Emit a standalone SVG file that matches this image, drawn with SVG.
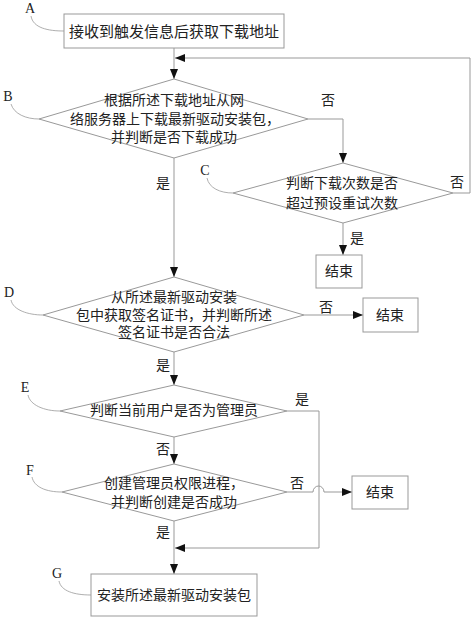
<svg xmlns="http://www.w3.org/2000/svg" width="474" height="620" viewBox="0 0 474 620">
<style>
.s{fill:#fff;stroke:#999;stroke-width:1}
.c{fill:none;stroke:#999;stroke-width:1}
.l{fill:none;stroke:#999;stroke-width:0.8}
text{font-family:"Liberation Serif","Noto Sans CJK SC",serif;fill:#222;font-size:14px}
.m{text-anchor:middle}
</style>
<defs>
<marker id="ar" viewBox="0 0 10 8" refX="10" refY="4" markerWidth="10" markerHeight="8" markerUnits="userSpaceOnUse" orient="auto">
<path d="M0,0L10,4L0,8z" fill="#111"/>
</marker>
</defs>
<rect width="474" height="620" fill="#fff"/>
<g id="connectors">
<path class="c" d="M174,48V79" marker-end="url(#ar)"/>
<path class="c" d="M453,193H470V58H175" marker-end="url(#ar)"/>
<path class="c" d="M308,119H343V163" marker-end="url(#ar)"/>
<path class="c" d="M343,223V255" marker-end="url(#ar)"/>
<path class="c" d="M174,158V277" marker-end="url(#ar)"/>
<path class="c" d="M304,315H363" marker-end="url(#ar)"/>
<path class="c" d="M174,352V385" marker-end="url(#ar)"/>
<path class="c" d="M174,437V464" marker-end="url(#ar)"/>
<path class="c" d="M287,411H319V548H175" marker-end="url(#ar)"/>
<path class="c" d="M287,492H313A5.5,6 0 0 1 324,492H352" marker-end="url(#ar)"/>
<path class="c" d="M174,521V574" marker-end="url(#ar)"/>
<text x="328" y="105" class="m">否</text>
<text x="163" y="188" class="m">是</text>
<text x="457" y="187" class="m">否</text>
<text x="357" y="243" class="m">是</text>
<text x="326" y="312" class="m">否</text>
<text x="163" y="370" class="m">是</text>
<text x="302" y="404" class="m">是</text>
<text x="163" y="454" class="m">否</text>
<text x="297" y="488" class="m">否</text>
<text x="163" y="537" class="m">是</text>
</g>
<g id="A">
<rect class="s" x="64" y="14" width="220" height="34"/>
<text x="174" y="37" class="m" style="font-size:15px">接收到触发信息后获取下载地址</text>
<text x="30" y="13" class="m">A</text>
<path class="l" d="M31,16C33,28 48,31 64,31"/>
</g>
<g id="B">
<path class="s" d="M174,79L308,119L174,158L39,119Z"/>
<text x="174" y="105" class="m">根据所述下载地址从网</text>
<text x="175" y="124" class="m">络服务器上下载最新驱动安装包，</text>
<text x="174" y="142" class="m">并判断是否下载成功</text>
<text x="8" y="101" class="m">B</text>
<path class="l" d="M11,104C14,114 26,119 39,119"/>
</g>
<g id="C">
<path class="s" d="M343,163L453,193L343,223L233,193Z"/>
<text x="342" y="188" class="m">判断下载次数是否</text>
<text x="342" y="208" class="m">超过预设重试次数</text>
<text x="205" y="175" class="m">C</text>
<path class="l" d="M207,178C209,188 220,193 233,193"/>
</g>
<g id="end1">
<rect class="s" x="316" y="255" width="46" height="33"/>
<text x="339" y="276" class="m">结束</text>
</g>
<g id="D">
<path class="s" d="M174,277L304,315L174,352L43,315Z"/>
<text x="174" y="302" class="m">从所述最新驱动安装</text>
<text x="174" y="320" class="m">包中获取签名证书，并判断所述</text>
<text x="174" y="337" class="m">签名证书是否合法</text>
<text x="9" y="297" class="m">D</text>
<path class="l" d="M11,300C13,310 28,315 43,315"/>
</g>
<g id="end2">
<rect class="s" x="363" y="298" width="55" height="34"/>
<text x="390" y="320" class="m">结束</text>
</g>
<g id="E">
<path class="s" d="M174,385L287,411L174,437L60,411Z"/>
<text x="174" y="415" class="m">判断当前用户是否为管理员</text>
<text x="25" y="392" class="m">E</text>
<path class="l" d="M28,395C30,405 44,411 60,411"/>
</g>
<g id="F">
<path class="s" d="M174,464L287,492L174,521L62,492Z"/>
<text x="174" y="488" class="m">创建管理员权限进程，</text>
<text x="174" y="507" class="m">并判断创建是否成功</text>
<text x="30" y="475" class="m">F</text>
<path class="l" d="M32,477C34,487 46,492 62,492"/>
</g>
<g id="end3">
<rect class="s" x="352" y="476" width="56" height="33"/>
<text x="380" y="497" class="m">结束</text>
</g>
<g id="G">
<rect class="s" x="91" y="574" width="166" height="42"/>
<text x="174" y="600" class="m">安装所述最新驱动安装包</text>
<text x="57" y="578" class="m">G</text>
<path class="l" d="M59,581C61,591 74,595 91,595"/>
</g>
</svg>
